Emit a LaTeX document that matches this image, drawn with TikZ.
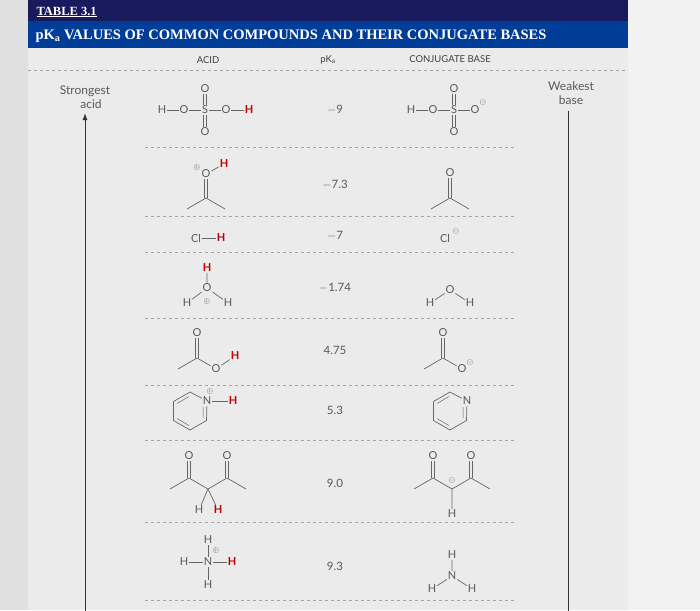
\documentclass[tikz,border=0pt]{standalone}
\usetikzlibrary{arrows.meta}
\usepackage{fontspec}
\setmainfont{Lato}
\newfontfamily\serifb{Liberation Serif}
\begin{document}
\begin{tikzpicture}[x=1pt,y=-1pt,
  atm/.style={font=\fontsize{11}{11}\selectfont, text=black!65, inner sep=0.8pt},
  rh/.style={atm, text=red!75!black, font=\fontsize{11}{11}\selectfont\bfseries},
  bd/.style={draw=black!60, line width=0.7pt},
  dl/.style={bd, transform canvas={xshift=-1.3pt}},
  dr/.style={bd, transform canvas={xshift=1.3pt}},
  chg/.style={font=\fontsize{8}{8}\selectfont, text=black!65, inner sep=0pt},
  sep/.style={draw=black!35, dashed, line width=0.6pt},
  hd/.style={font=\fontsize{9.5}{9.5}\selectfont, text=black!75},
  lab/.style={font=\fontsize{12}{14}\selectfont, text=black!65, align=center},
  pk/.style={font=\fontsize{11.5}{11}\selectfont, text=black!65}]
\useasboundingbox (0,0) rectangle (700,610);
\fill[black!12] (0,0) rectangle (700,610);
\fill[black!5] (628,0) rectangle (700,610);
\fill[black!8] (28,48) rectangle (628,610);
\fill[blue!30!black!90] (28,0) rectangle (628,21);
\fill[blue!60!cyan!60!black] (28,21) rectangle (628,48);
\node[anchor=west, text=white, font=\serifb\bfseries\fontsize{12.5}{12}\selectfont] (t1) at (33,12) {\underline{TABLE 3.1}};
\node[anchor=west, text=white, font=\serifb\bfseries\fontsize{14.5}{14}\selectfont] (t2) at (32,36) {pK\textsubscript{a} VALUES OF COMMON COMPOUNDS AND THEIR CONJUGATE BASES};
\node[hd] (hA) at (208,60) {ACID};
\node[hd] (hP) at (328,60) {pK\textsubscript{a}};
\node[hd] (hB) at (450,59) {CONJUGATE BASE};
\draw[sep] (28,70) -- (628,70);
\node[lab] (sa) at (85,97) {Strongest\\\hspace*{1em}acid};
\node[lab] (wb) at (571,93) {Weakest\\base};
\coordinate (sb) at (85,612);
\draw[line width=1pt, black!80, -{Latex[length=7pt,width=5pt]}] (sb) -- (85,113);
\coordinate (we) at (568,612);
\draw[line width=1pt, black!80] (568,111) -- (we);
\foreach \y in {147,216,252,318,385,440,522,600} \draw[sep] (145,\y) -- (515,\y);
% pKa
\node[pk] (p1) at (335,110) {$-$9};
\node[pk] (p2) at (335,185) {$-$7.3};
\node[pk] (p3) at (335,236) {$-$7};
\node[pk] (p4) at (335,288) {$-$1.74};
\node[pk] (p5) at (335,350) {4.75};
\node[pk] (p6) at (335,410) {5.3};
\node[pk] (p7) at (335,483) {9.0};
\node[pk] (p8) at (335,566) {9.3};
% row 1 acid
\node[atm] (a1h) at (162,110) {H};
\node[atm] (a1o1) at (184,110) {O};
\node[atm] (a1s) at (205,110) {S};
\node[atm] (a1o2) at (226,110) {O};
\node[rh] (a1h2) at (249,110) {H};
\node[atm] (a1ou) at (205,89) {O};
\node[atm] (a1od) at (205,132) {O};
\draw[bd] (a1h)--(a1o1) (a1o1)--(a1s) (a1s)--(a1o2) (a1o2)--(a1h2);
\draw[dl] (a1s)--(a1ou) (a1s)--(a1od);
\draw[dr] (a1s)--(a1ou) (a1s)--(a1od);
% row 1 base
\node[atm] (b1h) at (411,110) {H};
\node[atm] (b1o1) at (433,110) {O};
\node[atm] (b1s) at (454,110) {S};
\node[atm] (b1o2) at (475,110) {O};
\node[chg] (b1c) at (483,102) {$\ominus$};
\node[atm] (b1ou) at (454,89) {O};
\node[atm] (b1od) at (454,132) {O};
\draw[bd] (b1h)--(b1o1) (b1o1)--(b1s) (b1s)--(b1o2);
\draw[dl] (b1s)--(b1ou) (b1s)--(b1od);
\draw[dr] (b1s)--(b1ou) (b1s)--(b1od);
% row 2 acid
\coordinate (a2c) at (206,198);
\coordinate (a2m1) at (187,209);
\coordinate (a2m2) at (225,209);
\node[atm] (a2o) at (206,174) {O};
\node[chg] (a2p) at (197,167) {$\oplus$};
\node[rh] (a2h) at (224,164) {H};
\draw[bd] (a2m1)--(a2c)--(a2m2) (a2o)--(a2h);
\draw[dl] (a2c)--(a2o); \draw[dr] (a2c)--(a2o);
% row 2 base
\coordinate (b2c) at (450,198);
\coordinate (b2m1) at (431,209);
\coordinate (b2m2) at (469,209);
\node[atm] (b2o) at (450,173) {O};
\draw[bd] (b2m1)--(b2c)--(b2m2);
\draw[dl] (b2c)--(b2o); \draw[dr] (b2c)--(b2o);
% row 3
\node[atm] (a3cl) at (196,238) {Cl};
\node[rh] (a3h) at (221,238) {H};
\draw[bd] (a3cl)--(a3h);
\node[atm] (b3cl) at (445,238) {Cl};
\node[chg] (b3c) at (456,231) {$\ominus$};
% row 4 acid
\node[atm] (a4o) at (207,288) {O};
\node[rh] (a4h1) at (207,268) {H};
\node[atm] (a4h2) at (187,303) {H};
\node[atm] (a4h3) at (228,303) {H};
\node[chg] (a4p) at (207,301) {$\oplus$};
\draw[bd] (a4o)--(a4h1) (a4o)--(a4h2) (a4o)--(a4h3);
% row 4 base
\node[atm] (b4o) at (450,290) {O};
\node[atm] (b4h1) at (430,303) {H};
\node[atm] (b4h2) at (470,303) {H};
\draw[bd] (b4o)--(b4h1) (b4o)--(b4h2);
% row 5 acid
\coordinate (a5c) at (197,358);
\coordinate (a5m) at (178,369);
\node[atm] (a5o) at (197,333) {O};
\node[atm] (a5os) at (216,369) {O};
\node[rh] (a5h) at (235,356) {H};
\draw[bd] (a5m)--(a5c)--(a5os) (a5os)--(a5h);
\draw[dl] (a5c)--(a5o); \draw[dr] (a5c)--(a5o);
% row 5 base
\coordinate (b5c) at (443,358);
\coordinate (b5m) at (424,369);
\node[atm] (b5o) at (443,333) {O};
\node[atm] (b5os) at (462,369) {O};
\node[chg] (b5ch) at (470,362) {$\ominus$};
\draw[bd] (b5m)--(b5c)--(b5os);
\draw[dl] (b5c)--(b5o); \draw[dr] (b5c)--(b5o);
% row 6 acid pyridinium
\coordinate (a6v1) at (190,392);
\coordinate (a6v3) at (206.5,420.5);
\coordinate (a6v4) at (190,430);
\coordinate (a6v5) at (173.5,420.5);
\coordinate (a6v6) at (173.5,401.5);
\node[atm] (a6n) at (207,401) {N};
\node[chg] (a6p) at (210,391) {$\oplus$};
\node[rh] (a6h) at (233,401) {H};
\draw[bd] (a6v6)--(a6v1)--(a6n)--(a6v3)--(a6v4)--(a6v5)--(a6v6);
\draw[bd] (a6n)--(a6h);
\draw[bd, line width=0.5pt] (177,403.5)--(189,396.5) (177,418.5)--(189,425.5) (203,407)--(203,418);
% row 6 base
\coordinate (b6v1) at (450,392);
\coordinate (b6v3) at (466.5,420.5);
\coordinate (b6v4) at (450,430);
\coordinate (b6v5) at (433.5,420.5);
\coordinate (b6v6) at (433.5,401.5);
\node[atm] (b6n) at (467,401) {N};
\draw[bd] (b6v6)--(b6v1)--(b6n)--(b6v3)--(b6v4)--(b6v5)--(b6v6);
\draw[bd, line width=0.5pt] (437,403.5)--(449,396.5) (437,418.5)--(449,425.5) (463,407)--(463,418);
% row 7 acid
\coordinate (a7m1) at (170,489);
\coordinate (a7c1) at (189,478);
\coordinate (a7ch) at (208,489);
\coordinate (a7c2) at (227,478);
\coordinate (a7m2) at (246,489);
\node[atm] (a7o1) at (189,456) {O};
\node[atm] (a7o2) at (227,456) {O};
\node[atm] (a7h1) at (199,510) {H};
\node[rh] (a7h2) at (218,510) {H};
\draw[bd] (a7m1)--(a7c1)--(a7ch)--(a7c2)--(a7m2) (a7ch)--(a7h1) (a7ch)--(a7h2);
\draw[dl] (a7c1)--(a7o1) (a7c2)--(a7o2);
\draw[dr] (a7c1)--(a7o1) (a7c2)--(a7o2);
% row 7 base
\coordinate (b7m1) at (414,489);
\coordinate (b7c1) at (433,478);
\coordinate (b7ch) at (452,489);
\coordinate (b7c2) at (471,478);
\coordinate (b7m2) at (490,489);
\node[atm] (b7o1) at (433,456) {O};
\node[atm] (b7o2) at (471,456) {O};
\node[atm] (b7h) at (452,514) {H};
\node[chg] (b7cc) at (452,480) {$\ominus$};
\draw[bd] (b7m1)--(b7c1)--(b7ch)--(b7c2)--(b7m2) (b7ch)--(b7h);
\draw[dl] (b7c1)--(b7o1) (b7c2)--(b7o2);
\draw[dr] (b7c1)--(b7o1) (b7c2)--(b7o2);
% row 8 acid
\node[atm] (a8n) at (208,562) {N};
\node[atm] (a8hu) at (208,540) {H};
\node[atm] (a8hd) at (208,585) {H};
\node[atm] (a8hl) at (184,562) {H};
\node[rh] (a8hr) at (232,562) {H};
\node[chg] (a8p) at (216,550) {$\oplus$};
\draw[bd] (a8n)--(a8hu) (a8n)--(a8hd) (a8n)--(a8hl) (a8n)--(a8hr);
% row 8 base
\node[atm] (b8n) at (452,576) {N};
\node[atm] (b8hu) at (452,555) {H};
\node[atm] (b8hl) at (432,589) {H};
\node[atm] (b8hr) at (472,589) {H};
\draw[bd] (b8n)--(b8hu) (b8n)--(b8hl) (b8n)--(b8hr);
\end{tikzpicture}
\end{document}
